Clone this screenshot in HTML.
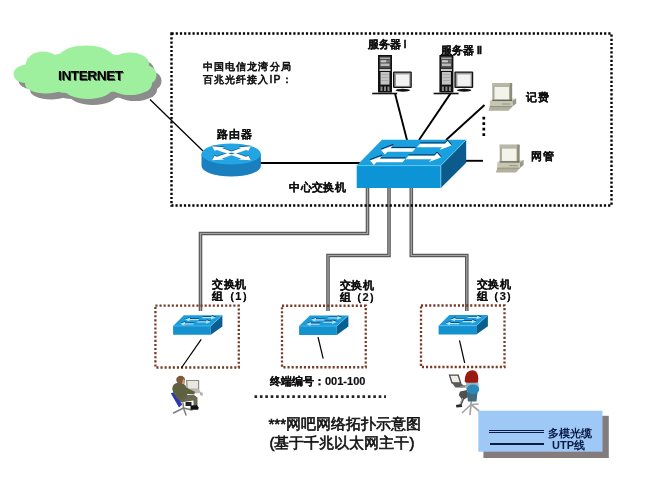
<!DOCTYPE html>
<html><head><meta charset="utf-8">
<style>
html,body{margin:0;padding:0;background:#fff;width:667px;height:500px;overflow:hidden}
svg{display:block;font-family:"Liberation Sans",sans-serif;will-change:transform}
.lb{font-size:11px;font-weight:bold;letter-spacing:0.5px;fill:#111;stroke:#111;stroke-width:0.2px}
.lr{font-size:10.4px;letter-spacing:1.15px;fill:#111;stroke:#111;stroke-width:0.6px}
</style></head><body>
<svg width="667" height="500" viewBox="0 0 667 500">
<defs>
  <g id="cloud">
    <ellipse cx="85" cy="73" rx="62" ry="21"/>
    <ellipse cx="25" cy="74" rx="11.5" ry="9"/>
    <ellipse cx="31" cy="73" rx="14" ry="9.5"/>
    <ellipse cx="43" cy="64" rx="17" ry="12.5"/>
    <ellipse cx="86" cy="60" rx="29" ry="14.5"/>
    <ellipse cx="130" cy="64" rx="19" ry="11.5"/>
    <ellipse cx="145.5" cy="75" rx="11" ry="10"/>
    <ellipse cx="130" cy="84" rx="22" ry="11"/>
    <ellipse cx="88" cy="87" rx="25" ry="12"/>
    <ellipse cx="46" cy="84" rx="21" ry="9.5"/>
  </g>
</defs>

<!-- double grey cables -->
<g fill="none" stroke-linejoin="miter">
  <g stroke="#5a5a5a" stroke-width="3.6">
    <polyline points="367.5,188 367.5,233.5 200.5,233.5 200.5,311"/>
    <polyline points="389,188 389,255.5 328,255.5 328,311"/>
    <polyline points="411.3,188 411.3,255.5 466.8,255.5 466.8,311"/>
  </g>
  <g stroke="#a6a6a6" stroke-width="1.2">
    <polyline points="367.5,188 367.5,233.5 200.5,233.5 200.5,311"/>
    <polyline points="389,188 389,255.5 328,255.5 328,311"/>
    <polyline points="411.3,188 411.3,255.5 466.8,255.5 466.8,311"/>
  </g>
</g>

<!-- dotted main box -->
<rect x="171.5" y="33.5" width="440" height="172" fill="none" stroke="#000" stroke-width="2.4" stroke-dasharray="2.2 2"/>

<!-- cloud -->
<g fill="#8c8c8c" transform="translate(5,6)"><use href="#cloud"/></g>
<g fill="#9ef09e"><use href="#cloud"/></g>
<text x="58" y="79.8" font-size="13.6" font-weight="bold" fill="#4a5a4a" style="letter-spacing:-0.4px" transform="translate(0.8,0.8)">INTERNET</text>
<text x="58" y="79.8" font-size="13.6" font-weight="bold" fill="#000" style="letter-spacing:-0.4px">INTERNET</text>

<!-- lines -->
<g stroke="#000" fill="none">
  <line x1="150" y1="99.5" x2="203" y2="151" stroke-width="1.3"/>
  <line x1="260" y1="163" x2="360" y2="163" stroke-width="1.9"/>
  <line x1="395" y1="93.6" x2="407" y2="140" stroke-width="1.9"/>
  <line x1="450.4" y1="93.6" x2="419" y2="140" stroke-width="1.9"/>
  <line x1="484.5" y1="105" x2="446" y2="140" stroke-width="1.9"/>
  <line x1="465" y1="160.8" x2="483" y2="160.8" stroke-width="1.9"/>
</g>
<!-- vertical dots -->
<line x1="483.8" y1="116.8" x2="483.8" y2="136.2" stroke="#000" stroke-width="2.7" stroke-dasharray="2.8 2.7"/>

<!-- router -->
<g>
  <path d="M201.5,154 L201.5,166 A29.7,10.5 0 0 0 260.9,166 L260.9,154 Z" fill="#1a7fbf"/>
  <ellipse cx="231.2" cy="154" rx="29.7" ry="10.5" fill="#22a5e2"/>
  <g fill="#0a3a66" opacity="0.75" transform="translate(0,-0.7)">
    <polygon points="232.6,151.9 222.0,148.1 224.4,147.2 212.1,146.3 214.5,150.8 217.0,149.9 227.6,153.7"/>
    <polygon points="235.4,153.7 246.0,149.9 248.5,150.8 250.9,146.3 238.6,147.2 241.0,148.1 230.4,151.9"/>
    <polygon points="227.6,152.9 217.0,156.7 214.5,155.8 212.1,160.3 224.4,159.4 222.0,158.5 232.6,154.7"/>
    <polygon points="230.4,154.7 241.0,158.5 238.6,159.4 250.9,160.3 248.5,155.8 246.0,156.7 235.4,152.9"/>
  </g>
  <g fill="#fff">
    <polygon points="232.6,151.9 222.0,148.1 224.4,147.2 212.1,146.3 214.5,150.8 217.0,149.9 227.6,153.7"/>
    <polygon points="235.4,153.7 246.0,149.9 248.5,150.8 250.9,146.3 238.6,147.2 241.0,148.1 230.4,151.9"/>
    <polygon points="227.6,152.9 217.0,156.7 214.5,155.8 212.1,160.3 224.4,159.4 222.0,158.5 232.6,154.7"/>
    <polygon points="230.4,154.7 241.0,158.5 238.6,159.4 250.9,160.3 248.5,155.8 246.0,156.7 235.4,152.9"/>
  </g>
</g>
<text class="lb" x="216.5" y="137.5" style="letter-spacing:1.2px">路由器</text>

<!-- main switch -->
<g>
  <polygon points="356.7,165.6 440.8,165.6 440.8,187.9 356.7,187.9" fill="#0c94d6"/>
  <polygon points="440.8,165.6 466.2,139.8 466.2,162.8 440.8,187.9" fill="#0b5b8d"/>
  <polygon points="382,139.8 466.2,139.8 440.8,165.6 356.7,165.6" fill="#1aa0de"/>
  <polyline points="356.7,165.6 440.8,165.6 466.2,139.8" fill="none" stroke="#5cc8f4" stroke-width="0.9"/>
  <line x1="440.8" y1="165.6" x2="440.8" y2="187.9" stroke="#7fd4f8" stroke-width="0.8"/>
  <g stroke="#0a2a50" stroke-width="1" fill="none">
    <polyline points="381.0,149.1 393.1,144.5 390.5,147.4 415.5,147.4"/>
    <polyline points="370.0,159.6 382.1,155.0 379.5,157.9 405.5,157.9"/>
    <polyline points="451.5,144.6 447.6,140.0 445.0,142.9 420.0,142.9"/>
    <polyline points="441.0,156.6 437.1,152.0 434.5,154.9 408.5,154.9"/>
  </g>
  <g fill="#fff">
    <polygon points="381.0,150.0 393.1,145.4 390.5,148.3 415.5,148.3 412.5,151.7 387.5,151.7 384.9,154.6"/>
    <polygon points="370.0,160.5 382.1,155.9 379.5,158.8 405.5,158.8 402.5,162.2 376.5,162.2 373.9,165.1"/>
    <polygon points="451.5,145.5 447.6,140.9 445.0,143.8 420.0,143.8 417.0,147.2 442.0,147.2 439.4,150.1"/>
    <polygon points="441.0,157.5 437.1,152.9 434.5,155.8 408.5,155.8 405.5,159.2 431.5,159.2 428.9,162.1"/>
  </g>
</g>
<text class="lb" x="289.3" y="191" style="letter-spacing:0.4px">中心交换机</text>

<!-- info text -->
<text class="lr" x="202.7" y="70">中国电信龙湾分局</text>
<text class="lr" x="202.7" y="83">百兆光纤接入IP：</text>

<!-- servers -->
<g id="srv1">
  <rect x="378" y="55" width="14" height="37.5" fill="#111"/>
  <rect x="379.5" y="56.5" width="11" height="12" fill="#4a4a4a"/>
  <rect x="380" y="57.5" width="10" height="1.6" fill="#aaa"/>
  <rect x="380.5" y="60.2" width="6" height="2.2" fill="#ccc"/>
  <rect x="387" y="60.2" width="3" height="2.2" fill="#777"/>
  <rect x="380.5" y="63.5" width="9" height="2.6" fill="#bbb"/>
  <rect x="379.5" y="69" width="11" height="2" fill="#c8c8c8"/>
  <rect x="380.5" y="72" width="9" height="12.6" fill="#c4c4c4"/>
  <rect x="381.5" y="74" width="7" height="0.6" fill="#999"/>
  <rect x="381.5" y="77" width="7" height="0.6" fill="#999"/>
  <rect x="381.5" y="80" width="7" height="0.6" fill="#999"/>
  <rect x="380.5" y="86.5" width="2" height="4.5" fill="#888"/>
  <rect x="384" y="86.5" width="2" height="4.5" fill="#888"/>
  <rect x="387.5" y="86.5" width="2" height="4.5" fill="#888"/>
  <rect x="393" y="71.4" width="18.8" height="16.7" rx="1" fill="#111"/>
  <rect x="394.3" y="72.7" width="16.2" height="14.1" fill="#9a9a9a"/>
  <rect x="396" y="74.4" width="13.2" height="11.5" fill="#f2f2f2"/>
  <ellipse cx="402.8" cy="90.3" rx="7.2" ry="1.5" fill="#111"/>
  <rect x="372.2" y="92.7" width="25" height="1.6" fill="#111"/>
</g>
<use href="#srv1" transform="translate(61.4,0)"/>
<text x="368.4" y="48.2" font-size="11" font-weight="bold" fill="#111" stroke="#111" stroke-width="0.3" style="font-family:'Liberation Serif',serif">服务器<tspan dx="2" style="font-family:'Liberation Sans',sans-serif">I</tspan></text>
<text x="441.2" y="53.6" font-size="11" font-weight="bold" fill="#111" stroke="#111" stroke-width="0.3" style="font-family:'Liberation Serif',serif">服务器<tspan dx="2.5" letter-spacing="-0.8" style="font-family:'Liberation Sans',sans-serif">II</tspan></text>

<!-- PCs -->
<g id="pc1">
  <polygon points="489.8,100.6 493.5,98.4 516.2,98.4 512.3,100.6" fill="#dcdccc"/>
  <polygon points="512.3,100.6 516.2,98.4 516.2,103.5 512.3,106.6" fill="#98988a"/>
  <polygon points="489.8,100.6 512.3,100.6 512.3,106.6 489.8,106.6" fill="#c6c6b2"/>
  <polygon points="489.8,106.6 512.3,106.6 508.6,110.8 488.4,110.8" fill="#b0b09c"/>
  <line x1="489.8" y1="106.6" x2="512.3" y2="106.6" stroke="#7a7a6a" stroke-width="0.7"/>
  <line x1="502" y1="104" x2="510" y2="104" stroke="#8a8a7a" stroke-width="0.8"/>
  <rect x="492.3" y="83.1" width="19.8" height="17.6" fill="#a8a898"/>
  <rect x="492.3" y="83.1" width="19.8" height="3.6" fill="#b8b8a8"/>
  <rect x="509.8" y="83.1" width="2.3" height="17.6" fill="#8c8c7c"/>
  <rect x="494.5" y="87" width="14.6" height="12.3" fill="#f3f3ea"/>
  <line x1="492.3" y1="100.4" x2="512.1" y2="100.4" stroke="#505044" stroke-width="0.9"/>
</g>
<use href="#pc1" transform="translate(7.4,61.6)"/>
<text class="lb" x="525.8" y="101" style="letter-spacing:0.8px">记费</text>
<text class="lb" x="531.3" y="159.5" style="letter-spacing:0.8px">网管</text>

<!-- group boxes -->
<g fill="none" stroke="#763a26" stroke-width="2.3" stroke-dasharray="2.1 2">
  <rect x="155.4" y="305.7" width="83.4" height="61.8"/>
  <rect x="282" y="305.75" width="83.75" height="61.5"/>
  <rect x="421" y="305.5" width="83.5" height="61.5"/>
</g>

<!-- small switches -->
<g id="ssw">
  <polygon points="173.1,325.9 210.8,325.9 210.8,334.7 173.1,334.7" fill="#1492cf"/>
  <polygon points="210.8,325.9 222.4,315.2 222.4,326.4 210.8,334.7" fill="#0a5e90"/>
  <polygon points="183.8,315.2 222.4,315.2 210.8,325.9 173.1,325.9" fill="#1c9cda"/>
  <polyline points="173.1,325.9 210.8,325.9 222.4,315.2" fill="none" stroke="#6ccaf2" stroke-width="0.6"/>
  <g fill="#0a3f6e" transform="translate(0.3,-0.8)">
    <polygon points="185,319.6 190,317.6 190,319 199,319 198.5,320.3 189.5,320.3 189.5,321.5"/>
    <polygon points="180,323.8 185,321.8 185,323.2 194,323.2 193.5,324.5 184.5,324.5 184.5,325.7"/>
    <polygon points="216,317.6 211,319.5 211,318.3 202,318.3 202.5,317 211.5,317 211.5,315.8"/>
    <polygon points="211,321.8 206,323.7 206,322.5 197,322.5 197.5,321.2 206.5,321.2 206.5,320"/>
  </g>
  <g fill="#a8e6fa">
    <polygon points="185,319.6 190,317.6 190,319 199,319 198.5,320.3 189.5,320.3 189.5,321.5"/>
    <polygon points="180,323.8 185,321.8 185,323.2 194,323.2 193.5,324.5 184.5,324.5 184.5,325.7"/>
    <polygon points="216,317.6 211,319.5 211,318.3 202,318.3 202.5,317 211.5,317 211.5,315.8"/>
    <polygon points="211,321.8 206,323.7 206,322.5 197,322.5 197.5,321.2 206.5,321.2 206.5,320"/>
  </g>
</g>
<use href="#ssw" transform="translate(126,0.2)"/>
<use href="#ssw" transform="translate(265.5,-0.2)"/>

<g stroke="#000" stroke-width="1.2">
  <line x1="201.2" y1="339.4" x2="181.3" y2="368"/>
  <line x1="318" y1="337" x2="323.2" y2="358.7"/>
  <line x1="459.5" y1="340.3" x2="464.7" y2="363"/>
</g>

<text class="lb" x="212.2" y="287.6">交换机</text>
<text class="lb" x="212.2" y="300">组（1）</text>
<text class="lb" x="339.5" y="289">交换机</text>
<text class="lb" x="339.5" y="300.5">组（2）</text>
<text class="lb" x="476.7" y="287.6">交换机</text>
<text class="lb" x="476.7" y="300">组（3）</text>
<text class="lb" x="270" y="385" style="letter-spacing:0px">终端编号：001-100</text>

<!-- bottom dotted line -->
<line x1="254.5" y1="396.6" x2="386" y2="396.6" stroke="#222" stroke-width="2.6" stroke-dasharray="2.6 2.8"/>

<!-- title -->
<text x="268.5" y="428.8" font-size="15" fill="#111" stroke="#111" stroke-width="0.6">***网吧网络拓扑示意图</text>
<text x="269.5" y="447.6" font-size="15" fill="#111" stroke="#111" stroke-width="0.6">(基于千兆以太网主干)</text>

<!-- legend -->
<rect x="483.4" y="415.8" width="125.4" height="42.2" fill="#847c7c"/>
<rect x="478.3" y="410.7" width="124.2" height="41" fill="#9ec9f7"/>
<g stroke="#0a1a44" stroke-width="1">
  <line x1="489" y1="430.5" x2="544" y2="430.5"/>
  <line x1="489" y1="432.5" x2="544" y2="432.5"/>
</g>
<line x1="490" y1="444" x2="544" y2="444" stroke="#0a1a44" stroke-width="2"/>
<text x="547.5" y="437" font-size="11" font-weight="bold" fill="#0a1a44">多模光缆</text>
<text x="552" y="449.4" font-size="11" font-weight="bold" fill="#0a1a44">UTP线</text>

<!-- person 1 -->
<g>
  <!-- chair base -->
  <g stroke="#7e7e7e" stroke-width="1.5" stroke-linecap="round" fill="none">
    <line x1="183" y1="403" x2="183.5" y2="408"/>
    <line x1="183.5" y1="408" x2="173.5" y2="413"/>
    <line x1="183.5" y1="408" x2="186" y2="415"/>
    <line x1="183.5" y1="408" x2="192" y2="410"/>
  </g>
  <!-- laptop -->
  <polygon points="186.6,380.5 198.6,380.5 198.6,389.3 187.2,389.3" fill="#e8e8e0" stroke="#8c8c84" stroke-width="1.2"/>
  <polygon points="185,389.5 199,389 201,393 188,394" fill="#bcbcb4"/>
  <polygon points="200,392 203,393 202.5,396 200,395" fill="#b0b0b0"/>
  <!-- chair back -->
  <polygon points="170.8,393.3 175.2,392 182.2,404.5 179,407.5" fill="#2a38b4"/>
  <!-- legs -->
  <polygon points="180,395 194,395 197.5,397.5 197.5,405.5 193.5,405.5 193.5,400.5 180,402.5" fill="#6a6a52"/>
  <polygon points="185.5,402 191.5,402 191.5,406 185.5,406" fill="#222"/>
  <polygon points="190.5,405.6 197,405 198.8,407.8 198,409.7 190.5,409.7" fill="#111"/>
  <!-- torso -->
  <path d="M172.2,389 Q172.5,383.2 178.5,382.6 Q184.8,382.8 186.4,387.5 L192,390.5 L195,391.8 L194.2,394.5 L187.5,394 L185,398.5 L180.5,400.5 L177,398.5 Q173,394 172.2,389 Z" fill="#5e6040"/>
  <!-- head -->
  <ellipse cx="180.6" cy="379.8" rx="4.4" ry="4" fill="#7a5a3a"/>
  <path d="M183,379 Q185.5,380 185,383.8 L182,384 Z" fill="#c8a078"/>
</g>
<!-- person 2 -->
<g>
  <g stroke="#a4a4a4" stroke-width="1.7" stroke-linecap="round" fill="none">
    <line x1="471.5" y1="399" x2="471" y2="404"/>
    <line x1="471" y1="404.5" x2="462.5" y2="412.5"/>
    <line x1="471" y1="404.5" x2="470" y2="414.5"/>
    <line x1="471" y1="404.5" x2="478.5" y2="410.5"/>
    <line x1="471" y1="404.5" x2="478" y2="404"/>
  </g>
  <!-- laptop -->
  <polygon points="449.5,375.2 458.2,375.2 460.6,382.8 452,382.8" fill="#eeeee6" stroke="#4a4a4a" stroke-width="1.3"/>
  <polygon points="452,383 460.8,383 466,387.5 455.5,387.5" fill="#5a5a5a"/>
  <line x1="460" y1="387" x2="467" y2="385.5" stroke="#8a8a8a" stroke-width="1.5"/>
  <!-- legs -->
  <polygon points="467,390 460,391.5 458.8,395 461.5,399 459.5,404.5 461.8,404.8 464,399.5 468,397" fill="#505050"/>
  <line x1="462.5" y1="398" x2="460" y2="404.5" stroke="#ddd" stroke-width="0.8"/>
  <polygon points="455.8,405 461.5,404 462.2,407 456.5,407.5" fill="#2a2a2a"/>
  <!-- shirt -->
  <polygon points="466,381 478,381 479.2,389 466.2,389" fill="#94b4c4"/>
  <!-- seat / lower -->
  <polygon points="466.5,392 477.5,392 476.5,401.5 468,401.5" fill="#3e6a7c"/>
  <!-- chair back -->
  <ellipse cx="472.9" cy="389.4" rx="6.3" ry="4.8" fill="#2a8ab6"/>
  <!-- hair -->
  <path d="M464.8,382.2 Q464.5,376 467,372.5 Q470,369.8 474,370.4 Q478.2,372 478.3,378 L478,382.2 Q471,383.5 464.8,382.2 Z" fill="#9a1a12"/>
</g>

</svg>
</body></html>
